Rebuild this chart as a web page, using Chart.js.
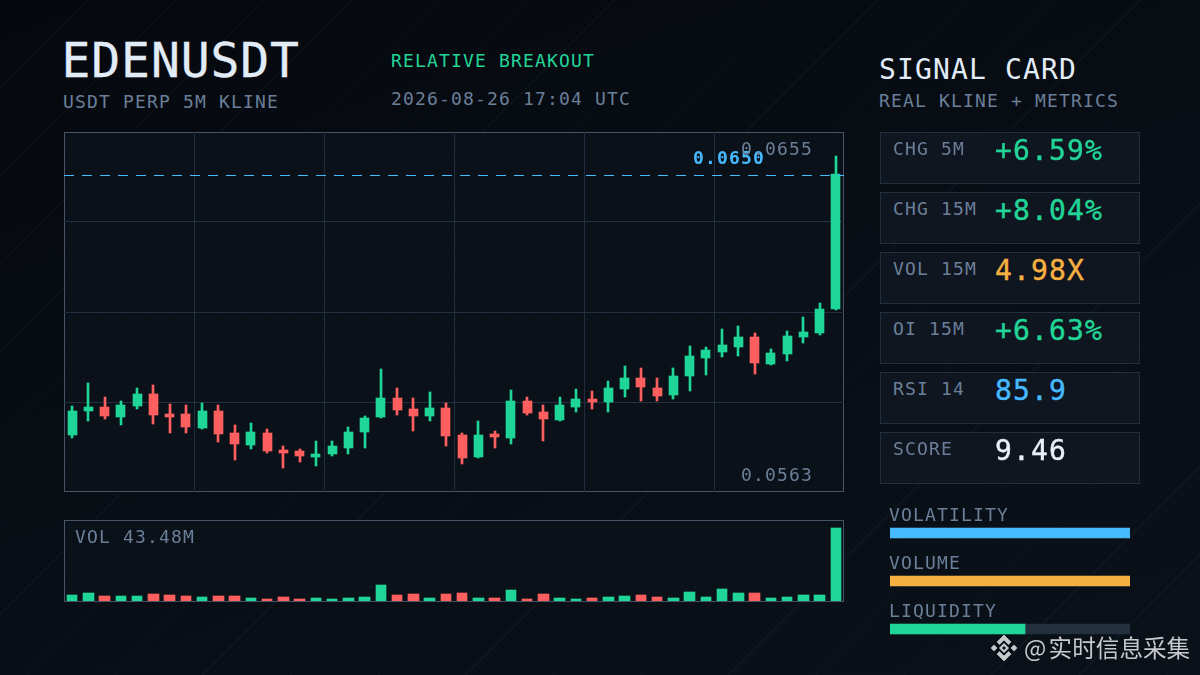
<!DOCTYPE html>
<html>
<head>
<meta charset="utf-8">
<script src="https://cdn.jsdelivr.net/npm/chart.js@4"></script>
<style>
  html, body { margin: 0; padding: 0; }
  body {
    width: 1200px; height: 675px; overflow: hidden; position: relative;
    background-color: #070b12;
    font-family: "DejaVu Sans Mono", monospace;
  }
  #stripes {
    position: absolute; inset: 0;
    background:
      repeating-linear-gradient(135deg, rgba(120,150,190,.05) 0 1px, transparent 1px 62px),
      linear-gradient(160deg, #05090e 0%, #090e16 55%, #0a1119 100%);
  }
  .t { position: absolute; white-space: pre; line-height: 1; font-size: 18px; letter-spacing: 1.16px; color: #6b7f99; }
  .panel {
    position: absolute; box-sizing: border-box; left: 64px; width: 780px; border: 1px solid #465468;
    background: radial-gradient(rgba(90,120,160,.10) .6px, transparent .8px) 0 0 / 12px 12px, #0b1119;
  }
  .plot { position: absolute; left: 64px; width: 780px; }
  .card { position: absolute; box-sizing: border-box; left: 880px; width: 260px; height: 52px; background: #0f1620; border: 1px solid #232f3e; }
  .card .t { left: 12px; top: 7.2px; }
  .card .v { left: 114px; top: 3.8px; font-size: 28px; letter-spacing: 1.14px; -webkit-text-stroke: .4px currentColor; }
  #mark { position: absolute; left: 990px; top: 634px; width: 28px; height: 28px; }
  #mark-text { position: absolute; left: 1024px; top: 633px; font: 23.6px/28px "Noto Sans CJK SC", sans-serif; word-spacing: -3px; color: #c6cacd; white-space: pre; }
</style>
</head>
<body>
<div id="stripes"></div>

<div class="t" style="left:61.5px;top:35.8px;font-size:48px;letter-spacing:.9px;color:#e2ecf7;-webkit-text-stroke:.3px #e2ecf7">EDENUSDT</div>
<div class="t" style="left:63px;top:92.8px">USDT PERP 5M KLINE</div>
<div class="t" style="left:391px;top:52px;color:#21d597">RELATIVE BREAKOUT</div>
<div class="t" style="left:391px;top:90.3px">2026-08-26 17:04 UTC</div>
<div class="t" style="left:879px;top:55.8px;font-size:28px;letter-spacing:1.14px;color:#e2ecf7">SIGNAL CARD</div>
<div class="t" style="left:879px;top:92.3px">REAL KLINE + METRICS</div>

<div class="panel" style="top:132px;height:360px"></div>
<div class="plot" style="top:132px;height:360px"><canvas id="kline"></canvas></div>
<div class="t" style="left:693px;top:149.3px;color:#46b9ff;font-weight:bold" id="lastLabel"></div>
<div class="t" style="left:741px;top:139.6px" id="highLabel"></div>
<div class="t" style="left:741px;top:466px" id="lowLabel"></div>

<div class="panel" style="top:520px;height:82px"></div>
<div class="plot" style="top:521px;height:80px"><canvas id="vol"></canvas></div>
<div class="t" style="left:75px;top:528px" id="volLabel"></div>

<div id="cards"></div>

<div class="plot" style="left:890px;width:240px;top:509px;height:144px"><canvas id="bars"></canvas></div>
<div class="t" style="left:889px;top:506px">VOLATILITY</div>
<div class="t" style="left:889px;top:554px">VOLUME</div>
<div class="t" style="left:889px;top:602px">LIQUIDITY</div>

<svg id="mark" viewBox="0 0 28 28" fill="#c6cacd" stroke="#c6cacd" stroke-width=".7">
  <path d="M14 1 L21 8 L18.5 10.5 L14 6 L9.5 10.5 L7 8 Z"/>
  <path d="M14 27 L21 20 L18.5 17.5 L14 22 L9.5 17.5 L7 20 Z"/>
  <path d="M1 14 L4 11 L7 14 L4 17 Z"/>
  <path d="M27 14 L24 11 L21 14 L24 17 Z"/>
  <path fill-rule="evenodd" stroke="none" d="M14 9 L19 14 L14 19 L9 14 Z M14 12 L12 14 L14 16 L16 14 Z"/>
</svg>
<div id="mark-text">@ 实时信息采集</div>

<script>
const opens = [0.05717,0.05789,0.05801,0.05771,0.05804,0.05840,0.05780,0.05780,0.05738,0.05789,0.05723,0.05687,0.05723,0.05672,0.05669,0.05651,
  0.05660,0.05678,0.05726,0.05771,0.05828,0.05795,0.05774,0.05798,0.05717,0.05651,0.05720,0.05708,0.05819,0.05786,0.05762,0.05801,
  0.05825,0.05816,0.05855,0.05888,0.05858,0.05837,0.05894,0.05948,0.05966,0.05981,0.06011,0.05930,0.05960,0.06011,0.06023,0.06095];
const highs = [0.05804,0.05873,0.05831,0.05819,0.05858,0.05867,0.05810,0.05807,0.05813,0.05807,0.05747,0.05753,0.05735,0.05684,0.05675,0.05699,
  0.05699,0.05741,0.05774,0.05915,0.05858,0.05828,0.05846,0.05813,0.05723,0.05759,0.05729,0.05852,0.05831,0.05807,0.05831,0.05855,
  0.05849,0.05879,0.05924,0.05918,0.05888,0.05918,0.05984,0.05981,0.06035,0.06044,0.06023,0.05975,0.06029,0.06071,0.06113,0.06554];
const lows = [0.05708,0.05759,0.05765,0.05747,0.05795,0.05750,0.05723,0.05723,0.05735,0.05696,0.05642,0.05675,0.05663,0.05618,0.05636,0.05624,
  0.05654,0.05660,0.05678,0.05768,0.05777,0.05729,0.05759,0.05684,0.05630,0.05648,0.05678,0.05690,0.05777,0.05699,0.05759,0.05786,
  0.05795,0.05786,0.05831,0.05819,0.05819,0.05825,0.05849,0.05897,0.05951,0.05954,0.05900,0.05927,0.05939,0.05993,0.06017,0.06092];
const closes = [0.05789,0.05801,0.05774,0.05807,0.05840,0.05777,0.05771,0.05741,0.05789,0.05720,0.05690,0.05726,0.05669,0.05663,0.05654,0.05660,
  0.05684,0.05726,0.05768,0.05828,0.05792,0.05774,0.05798,0.05714,0.05648,0.05717,0.05711,0.05819,0.05783,0.05765,0.05807,0.05825,
  0.05816,0.05858,0.05888,0.05861,0.05834,0.05894,0.05954,0.05972,0.05987,0.06011,0.05933,0.05963,0.06014,0.06026,0.06095,0.06500];
// millions
const volumes = [3.57,4.76,2.98,2.98,2.98,4.17,3.57,2.98,2.38,2.98,2.98,1.79,1.19,2.38,1.19,1.79,
  1.19,1.79,2.38,9.53,3.57,4.17,1.79,4.17,4.76,1.79,1.79,6.55,1.19,4.17,1.79,1.19,
  1.79,2.38,2.98,3.57,2.38,1.79,5.36,2.38,7.15,4.76,4.76,1.79,2.38,3.57,3.57,43.48];
const candleNos = opens.map((_, i) => i + 1);

const lastPrice = 0.06497;
const highLabel = "0.0655";
const lowLabel = "0.0563";
const lastLabel = "0.0650";
const volLabel = "VOL 43.48M";

const cardLabels = ["CHG 5M", "CHG 15M", "VOL 15M", "OI 15M", "RSI 14", "SCORE"];
const cardValues = ["+6.59%", "+8.04%", "4.98X", "+6.63%", "85.9", "9.46"];
const cardColors = ["#21d597", "#21d597", "#f6b042", "#21d597", "#46b9ff", "#e8f0f8"];

const barNames = ["VOLATILITY", "VOLUME", "LIQUIDITY"];
const barValues = [100, 100, 56.25];
const barColors = ["#46b9ff", "#f6b042", "#1fd598"];

const GREEN = "#1fd598", RED = "#ff5f5f", GRID = "#232e40";
const candleColors = opens.map((o, i) => (closes[i] >= o ? GREEN : RED));

document.getElementById("highLabel").textContent = highLabel;
document.getElementById("lowLabel").textContent = lowLabel;
document.getElementById("lastLabel").textContent = lastLabel;
document.getElementById("volLabel").textContent = volLabel;

const cardsEl = document.getElementById("cards");
cardLabels.forEach((label, i) => {
  const c = document.createElement("div");
  c.className = "card";
  c.style.top = (132 + i * 60) + "px";
  c.innerHTML = `<div class="t">${label}</div><div class="t v" style="color:${cardColors[i]}">${cardValues[i]}</div>`;
  cardsEl.appendChild(c);
});

Chart.defaults.animation = false;
Chart.defaults.responsive = true;
Chart.defaults.maintainAspectRatio = false;
Chart.defaults.plugins.legend.display = false;
Chart.defaults.plugins.tooltip.enabled = false;

// the reference has hard pixel edges, so snap the bars
const snapBars = {
  id: "snapBars",
  beforeDatasetsDraw(chart) {
    chart.getSortedVisibleDatasetMetas().forEach((meta) => {
      meta.data.forEach((el) => {
        const left = Math.round(el.x - el.width / 2);
        const right = Math.round(el.x + el.width / 2);
        el.x = (left + right) / 2;
        el.width = right - left;
        el.y = Math.round(el.y);
        el.base = Math.round(el.base);
      });
    });
  }
};

// dashed line at the last price, edge to edge of the plot
const lastPriceLine = {
  id: "lastPriceLine",
  afterDatasetsDraw(chart) {
    const { ctx, chartArea, scales } = chart;
    const y = Math.round(scales.y.getPixelForValue(lastPrice)) + 0.5;
    ctx.save();
    ctx.strokeStyle = "#46b9ff";
    ctx.lineWidth = 1;
    ctx.setLineDash([10, 8]);
    ctx.beginPath();
    ctx.moveTo(chartArea.left, y);
    ctx.lineTo(chartArea.right, y);
    ctx.stroke();
    ctx.restore();
  }
};

new Chart(document.getElementById("kline"), {
  type: "bar",
  plugins: [snapBars, lastPriceLine],
  data: {
    labels: candleNos,
    datasets: [
      { label: "wick", data: highs.map((h, i) => [lows[i], h]), backgroundColor: candleColors, barThickness: 2, grouped: false },
      { label: "body", data: closes.map((c, i) => [opens[i], c]), backgroundColor: candleColors, barThickness: 9, grouped: false }
    ]
  },
  options: {
    layout: { padding: 0 },
    scales: {
      x: {
        ticks: { display: false, autoSkip: false },
        border: { display: false },
        grid: { offset: true, drawTicks: false, color: (c) => (c.index > 0 && c.index % 8 === 0 ? GRID : "transparent") }
      },
      y: {
        min: 0.055461, max: 0.066261,
        ticks: { display: false, count: 5 },
        border: { display: false },
        grid: { drawTicks: false, color: (c) => (c.index > 0 && c.index < 4 ? GRID : "transparent") }
      }
    }
  }
});

new Chart(document.getElementById("vol"), {
  type: "bar",
  plugins: [snapBars],
  data: {
    labels: candleNos,
    datasets: [{ label: "vol", data: volumes, backgroundColor: candleColors, barThickness: 10.56 }]
  },
  options: {
    scales: {
      x: { display: false },
      y: { display: false, min: 0, max: 47.65 }
    }
  }
});

new Chart(document.getElementById("bars"), {
  type: "bar",
  data: {
    labels: barNames,
    datasets: [
      { label: "value", data: barValues, backgroundColor: barColors, barThickness: 10, grouped: false, order: 1 },
      { label: "track", data: barNames.map(() => 100), backgroundColor: "#232f3e", barThickness: 10, grouped: false, order: 2 }
    ]
  },
  options: {
    indexAxis: "y",
    scales: {
      x: { display: false, min: 0, max: 100 },
      y: { display: false }
    }
  }
});
</script>
</body>
</html>
